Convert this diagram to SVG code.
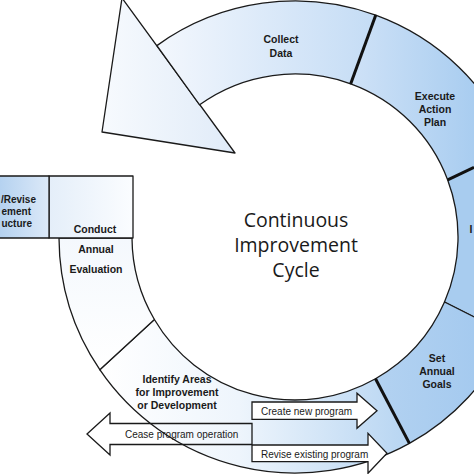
<svg xmlns="http://www.w3.org/2000/svg" width="474" height="474" viewBox="0 0 474 474">
<defs>
<linearGradient id="gCollect" gradientUnits="userSpaceOnUse" x1="157" y1="0" x2="376" y2="0"><stop offset="0" stop-color="#f3f7fd"/><stop offset="1" stop-color="#c4dcf5"/></linearGradient>
<linearGradient id="gExec" gradientUnits="userSpaceOnUse" x1="350" y1="0" x2="474" y2="0"><stop offset="0" stop-color="#cfe2f7"/><stop offset="1" stop-color="#a9cdf0"/></linearGradient>
<linearGradient id="gGoals" gradientUnits="userSpaceOnUse" x1="375" y1="0" x2="474" y2="0"><stop offset="0" stop-color="#b3d2f1"/><stop offset="1" stop-color="#a5caef"/></linearGradient>
<linearGradient id="gIdent" gradientUnits="userSpaceOnUse" x1="100" y1="0" x2="409" y2="0"><stop offset="0" stop-color="#ffffff"/><stop offset="0.45" stop-color="#eef5fc"/><stop offset="1" stop-color="#b7d5f2"/></linearGradient>
<linearGradient id="gConduct" gradientUnits="userSpaceOnUse" x1="0" y1="238" x2="0" y2="370"><stop offset="0" stop-color="#f4f8fd"/><stop offset="1" stop-color="#ffffff"/></linearGradient>
<linearGradient id="gRect" gradientUnits="userSpaceOnUse" x1="49" y1="0" x2="133" y2="0"><stop offset="0" stop-color="#e4eef9"/><stop offset="1" stop-color="#fbfdff"/></linearGradient>
<linearGradient id="gLeft" gradientUnits="userSpaceOnUse" x1="0" y1="0" x2="49" y2="0"><stop offset="0" stop-color="#b5d2f0"/><stop offset="1" stop-color="#dce9f8"/></linearGradient>
<linearGradient id="gHead" gradientUnits="userSpaceOnUse" x1="102" y1="0" x2="235" y2="0"><stop offset="0" stop-color="#f7fafe"/><stop offset="1" stop-color="#e0ebf8"/></linearGradient>
</defs>
<style>
.seg{stroke:#1a1a1a;stroke-width:1.3;stroke-linejoin:round}
.div{stroke:#111;stroke-width:3;fill:none}
.lbl{font-family:"Liberation Sans",Arial,sans-serif;font-weight:bold;font-size:10.5px;fill:#1a1a1a;text-anchor:middle}
.lblL{font-family:"Liberation Sans",Arial,sans-serif;font-weight:bold;font-size:10px;fill:#1a1a1a;text-anchor:end}
.arr{stroke:#1a1a1a;stroke-width:1.3;stroke-linejoin:miter}
.atxt{font-family:"Liberation Sans",Arial,sans-serif;font-size:10px;fill:#1a1a1a}
.title{font-family:"Open Sans","Liberation Sans",sans-serif;font-size:19.5px;fill:#1a1a1a;text-anchor:middle}
</style>

<g id="arrowhead">
<path class="seg" fill="url(#gHead)" d="M122,-2 L102,132 L235,153 Z"/>
</g>

<g id="collect-data">
<path class="seg" fill="url(#gCollect)" d="M156.9,45.6 A236,236 0 0 1 375.7,15.2 L350.7,83.8 A163,163 0 0 0 199.6,104.8 Z"/>
<text class="lbl" x="281" y="43">Collect</text>
<text class="lbl" x="281" y="57">Data</text>
</g>

<g id="execute-action-plan">
<path class="seg" fill="url(#gExec)" d="M375.7,15.2 A236,236 0 0 1 513.8,148.6 L447.7,179.9 A163,163 0 0 0 350.7,83.8 Z"/>
<text class="lbl" x="435" y="100">Execute</text>
<text class="lbl" x="435" y="113">Action</text>
<text class="lbl" x="435" y="126">Plan</text>
</g>

<g id="implement">
<path class="seg" fill="#a8ccef" d="M513.8,148.6 A236,236 0 0 1 509.8,334.9 L444.5,302 A163,163 0 0 0 447.7,179.9 Z"/>
<text class="lbl" x="469.5" y="233" style="text-anchor:start">I</text>
</g>

<g id="set-annual-goals">
<path class="seg" fill="url(#gGoals)" d="M509.8,334.9 A236,236 0 0 1 409.4,443.4 L375.5,378.7 A163,163 0 0 0 444.5,302 Z"/>
<text class="lbl" x="437" y="362">Set</text>
<text class="lbl" x="437" y="375">Annual</text>
<text class="lbl" x="437" y="388">Goals</text>
</g>

<g id="identify-areas">
<path class="seg" fill="url(#gIdent)" d="M409.4,443.4 A236,236 0 0 1 99.8,369.7 L154.4,319.5 A163,163 0 0 0 375.5,378.7 Z"/>
<text class="lbl" x="177" y="383">Identify Areas</text>
<text class="lbl" x="177" y="396">for Improvement</text>
<text class="lbl" x="177" y="409">or Development</text>
</g>

<g id="conduct-annual-evaluation">
<path class="seg" fill="url(#gConduct)" d="M99.8,369.7 A236,236 0 0 1 59,238 L132,238 A163,163 0 0 0 154.4,319.5 Z"/>
<rect class="seg" fill="url(#gRect)" x="49" y="176" width="84" height="62"/>
<text class="lbl" x="95" y="233">Conduct</text>
<text class="lbl" x="96" y="253">Annual</text>
<text class="lbl" x="96" y="273">Evaluation</text>
</g>

<g id="revise-structure">
<rect class="seg" fill="url(#gLeft)" x="-5" y="176" width="54" height="62"/>
<text class="lblL" x="36" y="203">/Revise</text>
<text class="lblL" x="31" y="215">ement</text>
<text class="lblL" x="32" y="227">ucture</text>
</g>

<g id="connectors">
<line class="div" x1="375.7" y1="15.2" x2="350.7" y2="83.8"/>
<line class="div" x1="447.7" y1="179.9" x2="474" y2="167.4"/>
<line class="div" x1="375.5" y1="378.7" x2="409.4" y2="443.4"/>
</g>

<g id="create-new-program">
<path class="arr" fill="#ffffff" d="M252,402 L357,402 L357,393.3 L377,410.7 L357,428.3 L357,419.3 L252,419.3 Z"/>
<text class="atxt" x="261" y="415">Create new program</text>
</g>

<g id="cease-program-operation">
<path class="arr" fill="none" d="M252,423.5 L110,423.5 L110,413 L87,434 L110,455 L110,444.5 L252,444.5 Z"/>
<text class="atxt" x="125" y="438">Cease program operation</text>
</g>

<g id="revise-existing-program">
<path class="arr" fill="#ffffff" d="M252,445 L368,445 L368,433.3 L387,453.3 L368,473.3 L368,461.6 L252,461.6 Z"/>
<text class="atxt" x="261" y="457.5">Revise existing program</text>
</g>

<g id="title">
<text class="title" x="296" y="227">Continuous</text>
<text class="title" x="296" y="252">Improvement</text>
<text class="title" x="296" y="277">Cycle</text>
</g>
</svg>
